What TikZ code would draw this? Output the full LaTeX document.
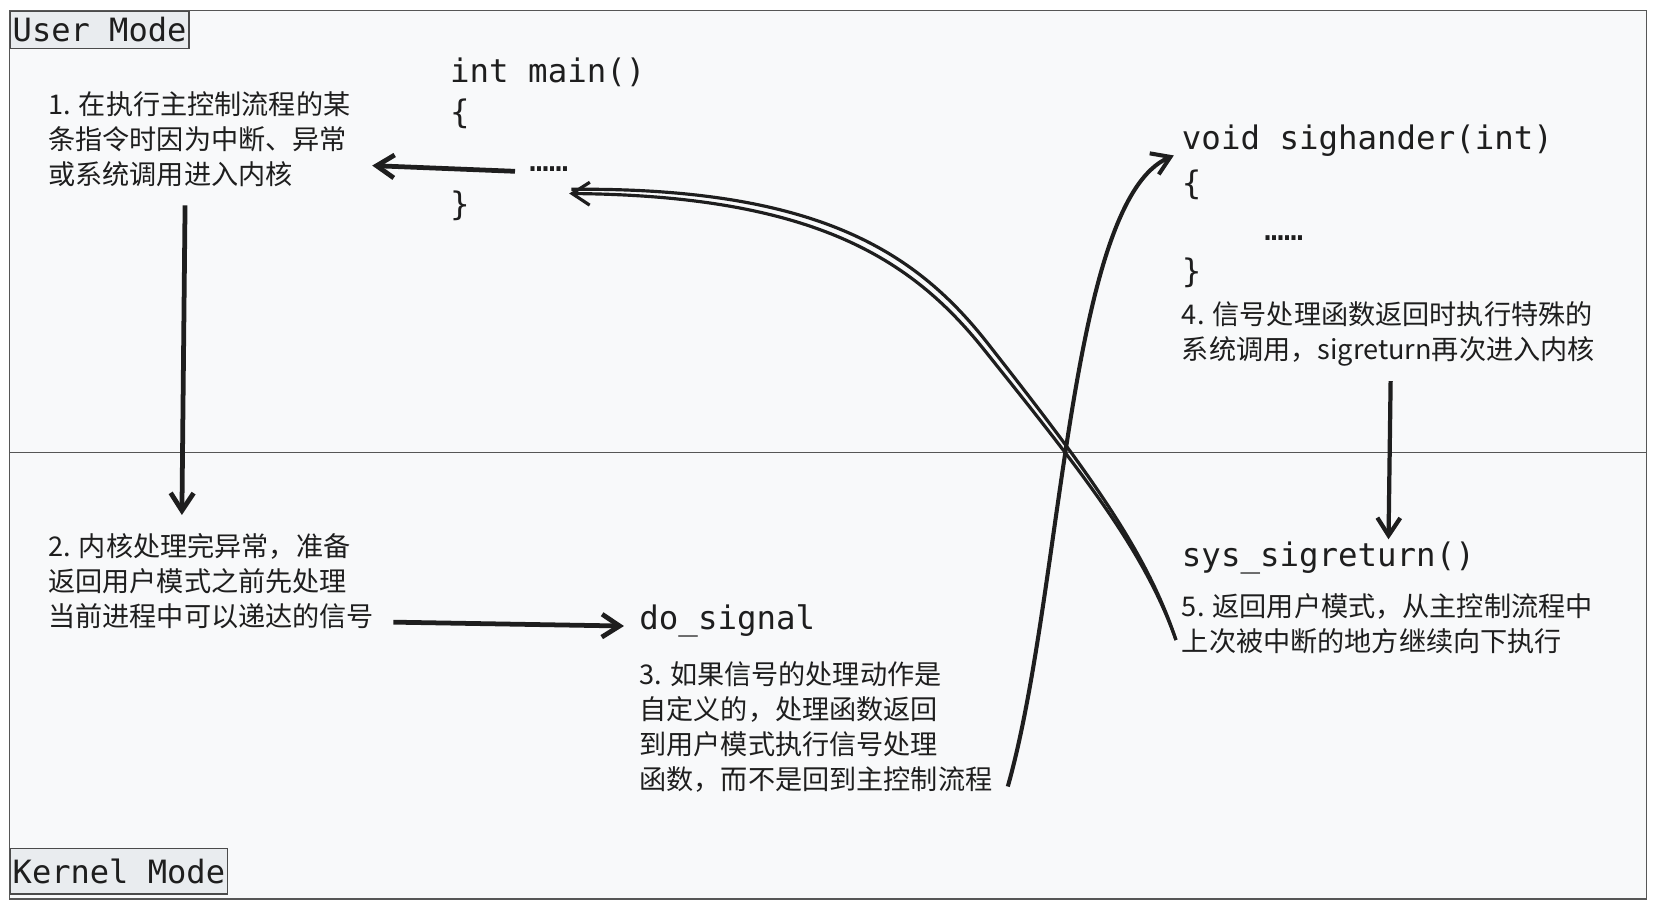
\documentclass[tikz,border=0pt]{standalone}
\usepackage{fontspec}
\setmonofont{DejaVu Sans Mono}
\newfontfamily\cjkfont{Noto Sans CJK SC}
\usetikzlibrary{positioning,arrows.meta,calc}
\definecolor{ink}{HTML}{1E1E1E}
\definecolor{paper}{HTML}{F8F9FA}
\definecolor{tagfill}{HTML}{E9ECEF}
\tikzset{
    code/.style={inner sep=0pt, anchor=west, text=ink,
        font=\ttfamily\fontsize{9.2}{11}\selectfont},
    note/.style={inner sep=0pt, anchor=north west, align=left, text=ink,
        font=\cjkfont\fontsize{7.7}{9.9}\selectfont},
    modetag/.style={draw=ink!80, fill=tagfill, line width=0.4pt,
        inner xsep=0.7pt, inner ysep=0pt, text=ink,
        font=\ttfamily\fontsize{9.1}{11}\selectfont},
    flow/.style={->, draw=ink, line width=1.35pt},
    backpath/.style={draw=ink, line width=0.9pt}
}

\begin{document}
\begin{tikzpicture}[x=0.3pt,y=-0.3pt,>={Straight Barb[length=5pt,width=6.5pt]}]
		\useasboundingbox (0,0) rectangle (1565,855);
		\fill[white] (0,0) rectangle (1565,855);
		\draw[ink!75, fill=paper, line width=0.5pt] (9,10) rectangle (1557,850);
		\draw[ink!75, line width=0.5pt] (9,428) -- (1557,428);

		\node[modetag, anchor=north west, minimum height=10.5pt] (usertag) at (9,10) {User Mode};
		\node[modetag, anchor=south west, minimum height=12.9pt] (kerneltag) at (9,846) {Kernel Mode};

		\node[code] (mainsig) at (425,68) {int main()};
		\node[code] (mainopen) at (425,108) {\{};
		\node[code] (maindots) at (500,160) {……};
		\node[code] (mainclose) at (425,195) {\}};

		\node[code] (handsig) at (1117,133) {void sighander(int)};
		\node[code] (handopen) at (1117,175) {\{};
		\node[code] (handdots) at (1195,225) {……};
		\node[code] (handclose) at (1117,258) {\}};

		\node[code] (sysret) at (1117,528) {sys\_sigreturn()};
		\node[code] (dosig) at (604,587) {do\_signal};

		\node[note] (note1) at (45,86) {1. 在执行主控制流程的某\\条指令时因为中断、异常\\或系统调用进入内核};
		\node[note] (note2) at (45,504) {2. 内核处理完异常，准备\\返回用户模式之前先处理\\当前进程中可以递达的信号};
		\node[note] (note3) at (604,625) {3. 如果信号的处理动作是\\自定义的，处理函数返回\\到用户模式执行信号处理\\函数，而不是回到主控制流程};
		\node[note] (note4) at (1117,285) {4. 信号处理函数返回时执行特殊的\\系统调用，sigreturn再次进入内核};
		\node[note] (note5) at (1117,561) {5. 返回用户模式，从主控制流程中\\上次被中断的地方继续向下执行};

		\draw[flow] ($(maindots.west)+(-13,2)$) -- ($(note1.west)+(307,25)$);
		\draw[flow] ($(note1.south west)+(130,17)$) -- ($(note2.north west)+(127,-17)$);
		\draw[flow] ($(note2.south west)+(327,-7)$) -- ($(dosig.west)+(-14,5)$);
		\draw[flow, line width=1.15pt] ($(note3.south west)+(349,-6)$) .. controls (1005,560) and (1010,190) .. ($(handsig.west)+(-7,14)$);
		\draw[flow, line width=1.2pt] ($(note4.south west)+(198,13)$) -- ($(sysret.west)+(196,-18)$);

		% sigreturn back to main
		\draw[backpath, ->] ($(note5.south west)+(-5,-14)$) .. controls (1082,520) and (1022,445) .. (930,330)
			.. controls (862,245) and (770,185) .. ($(maindots.east)+(0,23)$);
		\draw[backpath] ($(note5.south west)+(-5,-14)$) .. controls (1084,520) and (1026,442) .. (935,326)
			.. controls (868,240) and (776,177) .. ($(maindots.east)+(2,19)$);
	\end{tikzpicture}
\end{document}
